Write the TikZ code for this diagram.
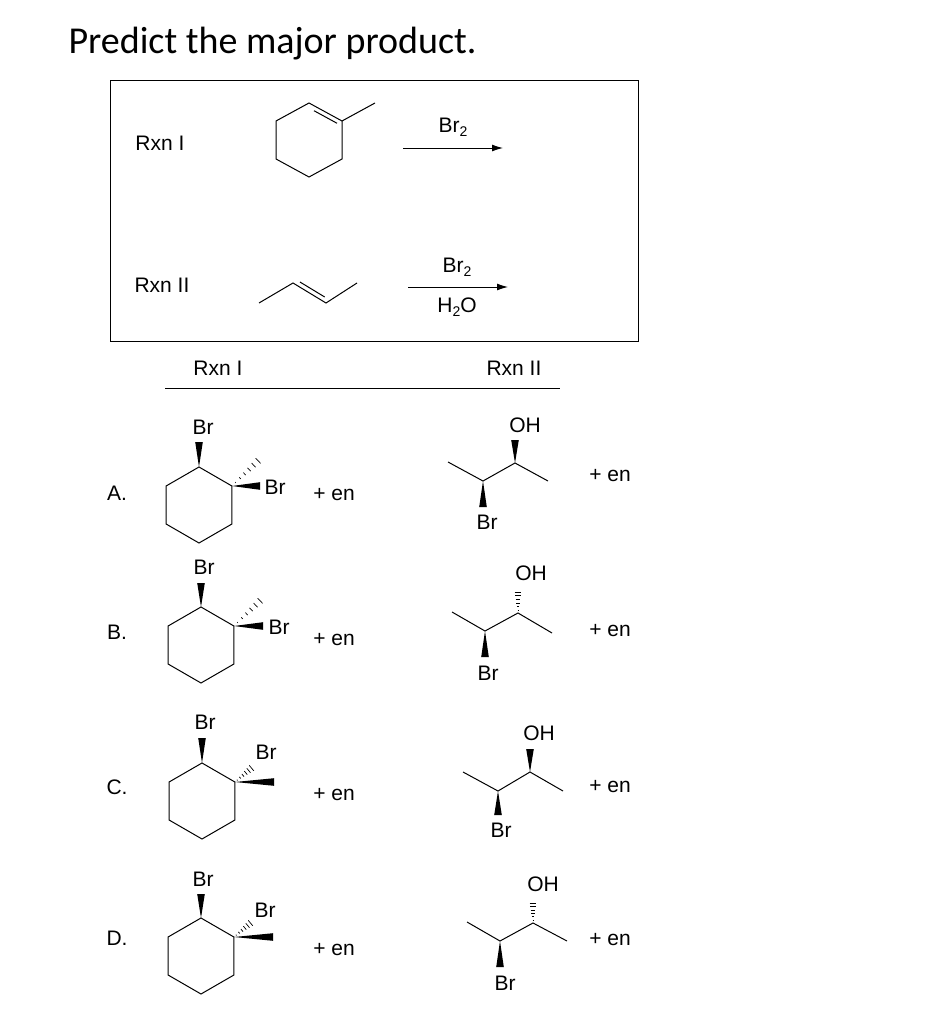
\documentclass[tikz,border=0pt]{standalone}
\usepackage{fontspec}
\setmainfont{Liberation Sans}
\newfontfamily\titlefont{Carlito}
\usetikzlibrary{calc,arrows.meta}
\newcommand\wdg[2]{\fill ($(#1)$) -- ($(#2)!3.8pt!90:(#1)$) -- ($(#2)!3.8pt!-90:(#1)$) -- cycle;}
\newcommand\hsh[2]{\foreach \t in {0.12,0.27,...,1.0}{\draw[line width=0.7pt] ($($(#1)!\t!(#2)$)!\t*4pt!90:(#2)$) -- ($($(#1)!\t!(#2)$)!\t*4pt!-90:(#2)$);}}
\newcommand\sbs[1]{\raisebox{-0.35ex}{\fontsize{14}{14}\selectfont #1}}
\begin{document}
\begin{tikzpicture}[x={(1pt,0)},y={(0,-1pt)},line width=1pt,
 lab/.style={font=\fontsize{21}{21}\selectfont,inner sep=0pt},
 bond/.style={line width=1pt},
 rarrow/.style={-{Latex[length=11pt,width=7pt]},line width=0.9pt}]
\useasboundingbox (0,0) rectangle (936,1024);
\node[anchor=west,font=\titlefont\fontsize{38}{38}\selectfont,inner sep=0pt] (title) at (68,44) {Predict the major product.};
\draw[line width=0.9pt] (110,80) rectangle (638,341);
\node[lab] (r1) at (160,143) {Rxn I};
\node[lab] (r2) at (162,285) {Rxn II};
% cyclohexene
\coordinate (c1) at (309,103); \coordinate (c2) at (342,121); \coordinate (c3) at (342,159);
\coordinate (c4) at (309,177); \coordinate (c5) at (276,159); \coordinate (c6) at (276,121);
\draw[bond] (c1)--(c2)--(c3)--(c4)--(c5)--(c6)--cycle;
\draw[bond] ($(c1)!0.15!(c2)+(0,5)$) -- ($(c1)!0.85!(c2)+(0,5)$);
\coordinate (me) at (375,103); \draw[bond] (c2)--(me);
\coordinate (a1s) at (403,148); \coordinate (a1e) at (503,148);
\draw[rarrow] (a1s)--(a1e);
\node[lab] (br2a) at (453,127) {Br\sbs{2}};
% butene
\coordinate (b1) at (259,303); \coordinate (b2) at (293,283); \coordinate (b3) at (326,303); \coordinate (b4) at (357,283);
\draw[bond] (b1)--(b2)--(b3)--(b4);
\draw[bond] ($(b2)!0.15!(b3)+(2,-4)$) -- ($(b2)!0.9!(b3)+(2,-4)$);
\coordinate (a2s) at (408,287); \coordinate (a2e) at (508,287);
\draw[rarrow] (a2s)--(a2e);
\node[lab] (br2b) at (457,267) {Br\sbs{2}};
\node[lab] (h2o) at (457,307) {H\sbs{2}O};
% header
\node[lab] (h1) at (218,368) {Rxn I};
\node[lab] (h2) at (514,368) {Rxn II};
\coordinate (hl1) at (165,388); \coordinate (hl2) at (560,388);
\draw[line width=0.9pt] (hl1)--(hl2);
% letters
\node[lab] (LA) at (117,493) {A.};
\node[lab] (LB) at (117,632) {B.};
\node[lab] (LC) at (117,787) {C.};
\node[lab] (LD) at (117,938) {D.};
% ring products
\foreach \n/\cx/\cy in {A/199/505,B/201/645,C/202/801,D/201/956}{
  \foreach \i/\a in {1/90,2/30,3/-30,4/-90,5/-150,6/150}{
    \coordinate (\n\i) at ($(\cx,\cy)+(\a:38pt)$);}
  \draw[bond] (\n1)--(\n2)--(\n3)--(\n4)--(\n5)--(\n6)--cycle;
}
% A
\coordinate (Aw) at (199,442); \wdg{A1}{Aw} \node[lab] (Abr1) at (203,427) {Br};
\coordinate (Aw2) at (260,486); \wdg{A2}{Aw2} \node[lab] (Abr2) at (275,487) {Br};
\coordinate (Ah) at (262,457); \hsh{A2}{Ah}
\node[lab] (Ae1) at (334,495) {+ en};
% B
\coordinate (Bw) at (201,583); \wdg{B1}{Bw} \node[lab] (Bbr1) at (204,567) {Br};
\coordinate (Bw2) at (263,626); \wdg{B2}{Bw2} \node[lab] (Bbr2) at (279,627) {Br};
\coordinate (Bh) at (264,597); \hsh{B2}{Bh}
\node[lab] (Be1) at (334,640) {+ en};
% C
\coordinate (Cw) at (202,738); \wdg{C1}{Cw} \node[lab] (Cbr1) at (205,722) {Br};
\coordinate (Cw2) at (274,782); \wdg{C2}{Cw2}
\coordinate (Ch) at (254,766); \hsh{C2}{Ch} \node[lab] (Cbr2) at (266,752) {Br};
\node[lab] (Ce1) at (334,795) {+ en};
% D
\coordinate (Dw) at (201,894); \wdg{D1}{Dw} \node[lab] (Dbr1) at (203,879) {Br};
\coordinate (Dw2) at (273,937); \wdg{D2}{Dw2}
\coordinate (Dh) at (253,921); \hsh{D2}{Dh} \node[lab] (Dbr2) at (265,910) {Br};
\node[lab] (De1) at (334,950) {+ en};
% chains
\foreach \n/\xa/\ya/\xb/\yb/\xc/\yc/\xd/\yd in {A/448/462/483/481/515/463/548/481,B/452/612/485/631/518/613/552/633,C/463/772/498/791/530/772/563/791,D/467/922/500/941/533/923/567/941}{
  \coordinate (\n p1) at (\xa,\ya); \coordinate (\n p2) at (\xb,\yb);
  \coordinate (\n p3) at (\xc,\yc); \coordinate (\n p4) at (\xd,\yd);
  \draw[bond] (\n p1)--(\n p2)--(\n p3)--(\n p4);
}
\coordinate (Aob) at (515,440); \wdg{Ap3}{Aob} \node[lab] (Aoh) at (525,425) {OH};
\coordinate (Abb) at (483,507); \wdg{Ap2}{Abb} \node[lab] (Abr) at (487,522) {Br};
\node[lab] (Ae2) at (610,476) {+ en};
\coordinate (Bob) at (518,589); \hsh{Bp3}{Bob} \node[lab] (Boh) at (531,573) {OH};
\coordinate (Bbb) at (485,657); \wdg{Bp2}{Bbb} \node[lab] (Bbr) at (488,673) {Br};
\node[lab] (Be2) at (610,631) {+ en};
\coordinate (Cob) at (530,749); \wdg{Cp3}{Cob} \node[lab] (Coh) at (539,733) {OH};
\coordinate (Cbb) at (498,815); \wdg{Cp2}{Cbb} \node[lab] (Cbr) at (501,830) {Br};
\node[lab] (Ce2) at (610,787) {+ en};
\coordinate (Dob) at (533,900); \hsh{Dp3}{Dob} \node[lab] (Doh) at (543,884) {OH};
\coordinate (Dbb) at (500,967); \wdg{Dp2}{Dbb} \node[lab] (Dbr) at (505,983) {Br};
\node[lab] (De2) at (610,940) {+ en};
\end{tikzpicture}
\end{document}
